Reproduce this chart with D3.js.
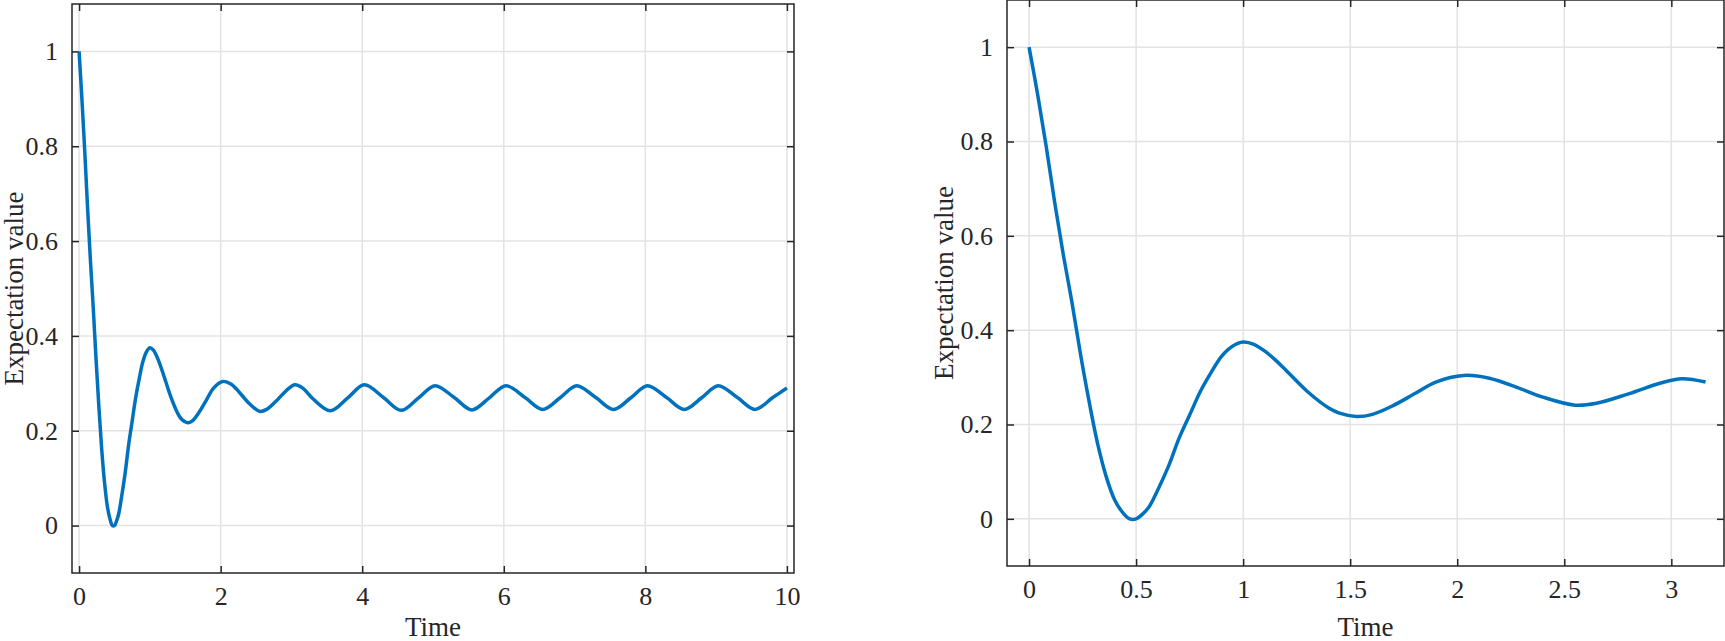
<!DOCTYPE html>
<html><head><meta charset="utf-8">
<script src="https://cdn.jsdelivr.net/npm/d3@7"></script>
<style>body{margin:0;background:#fff}svg{display:block}svg text{font-family:"Liberation Serif","Times New Roman","DejaVu Serif",serif !important}</style>
</head><body><svg id="c" width="1725" height="641"></svg>
<script>
const timeEarly = [0,0.04,0.08,0.12,0.16,0.2,0.24,0.28,0.32,0.36,0.4,0.44,0.47,0.5,0.53,0.56,0.6,0.65,0.7,0.75,0.8,0.85,0.9,0.95,1.0,1.05,1.1,1.15,1.2,1.3,1.4,1.45,1.53,1.6,1.7,1.8,1.9,2.03,2.15,2.3,2.4,2.55,2.65,2.8,2.95,3.05,3.16];
const valEarly  = [1,0.9,0.79,0.67,0.56,0.46,0.35,0.25,0.16,0.09,0.04,0.012,0,0,0.01,0.025,0.06,0.11,0.17,0.22,0.27,0.31,0.345,0.366,0.375,0.37,0.356,0.337,0.315,0.27,0.235,0.224,0.217,0.221,0.24,0.265,0.29,0.304,0.298,0.275,0.258,0.241,0.245,0.265,0.288,0.297,0.29];
const timeLate = [3.3,3.55,3.8,4.03,4.3,4.55,4.8,5.03,5.3,5.55,5.8,6.03,6.3,6.55,6.8,7.03,7.3,7.55,7.8,8.03,8.3,8.55,8.8,9.03,9.3,9.55,9.8,10.0];
const valLate  = [0.268,0.242,0.27,0.297,0.27,0.243,0.27,0.295,0.27,0.244,0.27,0.295,0.27,0.245,0.27,0.295,0.27,0.245,0.27,0.295,0.27,0.245,0.27,0.295,0.27,0.245,0.27,0.29];
const yTicks = [0,0.2,0.4,0.6,0.8,1];
const xTicksLeft = [0,2,4,6,8,10];
const xTicksRight = [0,0.5,1,1.5,2,2.5,3];

const full = timeEarly.map((t,i)=>[t,valEarly[i]]).concat(timeLate.map((t,i)=>[t,valLate[i]]));
const early = timeEarly.map((t,i)=>[t,valEarly[i]]);
const svg = d3.select("#c");

function panel(o){
  const x = d3.scaleLinear().domain(o.xd).range([o.l,o.r]);
  const y = d3.scaleLinear().domain([-0.1,1.1]).range([o.b,o.t]);
  const g = svg.append("g");
  g.selectAll(".gx").data(o.xt).join("line").attr("x1",d=>x(d)).attr("x2",d=>x(d)).attr("y1",o.t).attr("y2",o.b).attr("stroke","#e3e3e3").attr("stroke-width",1.5);
  g.selectAll(".gy").data(yTicks).join("line").attr("y1",d=>y(d)).attr("y2",d=>y(d)).attr("x1",o.l).attr("x2",o.r).attr("stroke","#e3e3e3").attr("stroke-width",1.5);
  const tk=7, tc="#262626";
  g.append("g").attr("transform",`translate(0,${o.b})`).call(d3.axisBottom(x).tickValues(o.xt).tickSize(-tk).tickPadding(14).tickFormat(d3.format("")));
  g.append("g").attr("transform",`translate(0,${o.t})`).call(d3.axisTop(x).tickValues(o.xt).tickSize(-tk).tickFormat(""));
  g.append("g").attr("transform",`translate(${o.l},0)`).call(d3.axisLeft(y).tickValues(yTicks).tickSize(-tk).tickPadding(14).tickFormat(d3.format("")));
  g.append("g").attr("transform",`translate(${o.r},0)`).call(d3.axisRight(y).tickValues(yTicks).tickSize(-tk).tickFormat(""));
  g.selectAll(".domain").remove();
  g.selectAll(".tick line").attr("stroke",tc).attr("stroke-width",1.5);
  g.selectAll(".tick text").attr("font-size",26).attr("fill","#262626");
  g.append("rect").attr("x",o.l).attr("y",o.t).attr("width",o.r-o.l).attr("height",o.b-o.t).attr("fill","none").attr("stroke","#262626").attr("stroke-width",1.5);
  g.append("path").datum(o.data).attr("fill","none").attr("stroke","#0072BD").attr("stroke-width",3.5)
    .attr("d",d3.line().x(d=>x(d[0])).y(d=>y(d[1])).curve(d3.curveCatmullRom.alpha(0.5)));
  g.append("text").attr("x",(o.l+o.r)/2).attr("y",636).attr("text-anchor","middle").attr("font-size",27).attr("fill","#262626").text("Time");
  g.append("text").attr("transform",`translate(${o.yl},${(o.t+o.b)/2}) rotate(-90)`).attr("text-anchor","middle").attr("dominant-baseline","central").attr("font-size",27).attr("fill","#262626").text("Expectation value");
}
panel({l:72,r:794,t:4,b:573,xd:[-0.1,10.1],xt:xTicksLeft,data:full,yl:14});
panel({l:1007,r:1724,t:0,b:566,xd:[-0.103,3.246],xt:xTicksRight,data:early,yl:944});
</script></body></html>
